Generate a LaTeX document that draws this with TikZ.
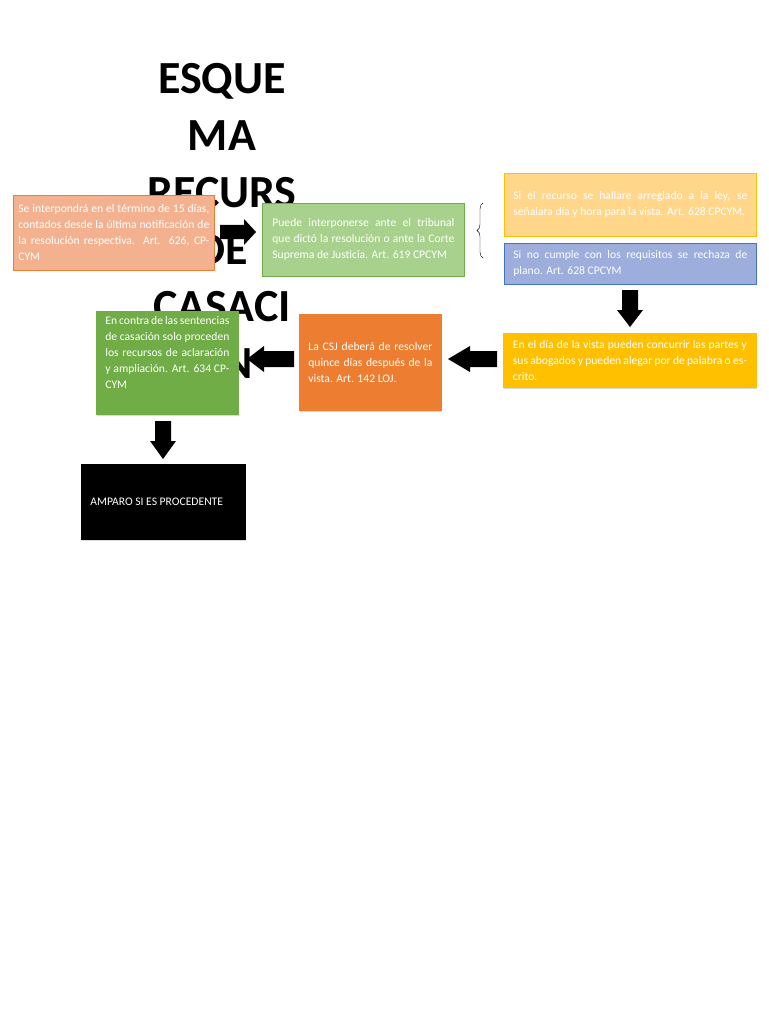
\documentclass[tikz,border=0pt]{standalone}
\usepackage{fontspec}
\setmainfont{Carlito}
\usetikzlibrary{decorations.pathreplacing,shadows}
\definecolor{salm}{HTML}{F4B18F}\definecolor{salmb}{HTML}{ED7D31}
\definecolor{lgr}{HTML}{A9D18E}\definecolor{gr}{HTML}{70AD47}
\definecolor{lyel}{HTML}{FFD68A}\definecolor{yel}{HTML}{FFC000}
\definecolor{lblu}{HTML}{9DADDC}\definecolor{blu}{HTML}{4472C4}
\definecolor{org}{HTML}{ED7D31}
\tikzset{x=1pt,y=-1pt,
 bx/.style={draw,line width=0.8pt,inner sep=0pt,anchor=north west},
 tx/.style={text width=#1,align=justify,text=white,font=\fontsize{11.6}{16}\selectfont,inner sep=0pt},
 shd/.style={drop shadow={shadow xshift=1pt,shadow yshift=-2pt,opacity=0.3}},
 ttl/.style={font=\fontsize{46}{57}\selectfont\bfseries,align=center}}
\begin{document}
\begin{tikzpicture}
\useasboundingbox (0,0) rectangle (768,1024);
\node[ttl] (t) at (222,221) {ESQUE\\MA\\RECURS\\DE\\CASACI\\ÓN};
\node[bx,fill=salm,draw=salmb,minimum width=201pt,minimum height=75pt] (a) at (13,195) {};
\node[tx=191pt] (at) at (a.center) {Se interpondrá en el término de 15 días, contados desde la última notificación de la resolución respectiva. Art. 626, CPCYM};
\node[bx,fill=lgr,draw=gr,minimum width=202pt,minimum height=73pt] (b) at (262,203) {};
\node[tx=182pt] (bt) at (b.center) {Puede interponerse ante el tribunal que dictó la resolución o ante la Corte Suprema de Justicia. Art. 619 CPCYM};
\node[bx,fill=lyel,draw=yel,minimum width=252pt,minimum height=63pt] (c) at (504,173) {};
\node[tx=234pt] (ct) at (c.center) {Si el recurso se hallare arreglado a la ley, se señalara día y hora para la vista. Art. 628 CPCYM.};
\node[bx,fill=lblu,draw=blu,minimum width=252pt,minimum height=41pt] (d) at (504,243) {};
\node[tx=234pt] (dt) at (d.center) {Si no cumple con los requisitos se rechaza de plano. Art. 628 CPCYM};
\node[bx,fill=yel,draw=yel,minimum width=253pt,minimum height=54pt,shd] (e) at (503,333) {};
\node[tx=234pt] (et) at (e.center) {En el día de la vista pueden concurrir las partes y sus abogados y pueden alegar por de palabra o escrito.};
\node[bx,fill=org,draw=org,minimum width=142pt,minimum height=96pt,shd] (f) at (299,314) {};
\node[tx=124pt] (ft) at (f.center) {La CSJ deberá de resolver quince días después de la vista. Art. 142 LOJ.};
\node[bx,fill=gr,draw=gr,minimum width=142pt,minimum height=103pt,shd] (g) at (96,311) {};
\node[tx=124pt,anchor=north] (gt) at ([yshift=-5pt]g.north) {En contra de las sentencias de casación solo proceden los recursos de aclaración y ampliación. Art. 634 CPCYM};
\node[bx,fill=black,draw=black,minimum width=164pt,minimum height=75pt,shd] (h) at (81,464) {};
\node[tx=146pt] (ht) at (h.center) {AMPARO SI ES PROCEDENTE};
\fill (220,225) -- (244,225) -- (244,219) -- (256,232) -- (244,245) -- (244,239) -- (220,239) -- cycle;
\fill (622,290) -- (638,290) -- (638,310) -- (643,310) -- (630,327) -- (617,310) -- (622,310) -- cycle;
\fill (497,351) -- (470,351) -- (470,346) -- (448,359) -- (470,372) -- (470,367) -- (497,367) -- cycle;
\fill (294,351) -- (264,351) -- (264,346) -- (247,359) -- (264,372) -- (264,367) -- (294,367) -- cycle;
\fill (155,421) -- (171,421) -- (171,441) -- (176,441) -- (163,459) -- (150,441) -- (155,441) -- cycle;
\draw[decorate,decoration={brace,amplitude=6pt}] (483,258) -- (483,203);
\end{tikzpicture}
\end{document}
